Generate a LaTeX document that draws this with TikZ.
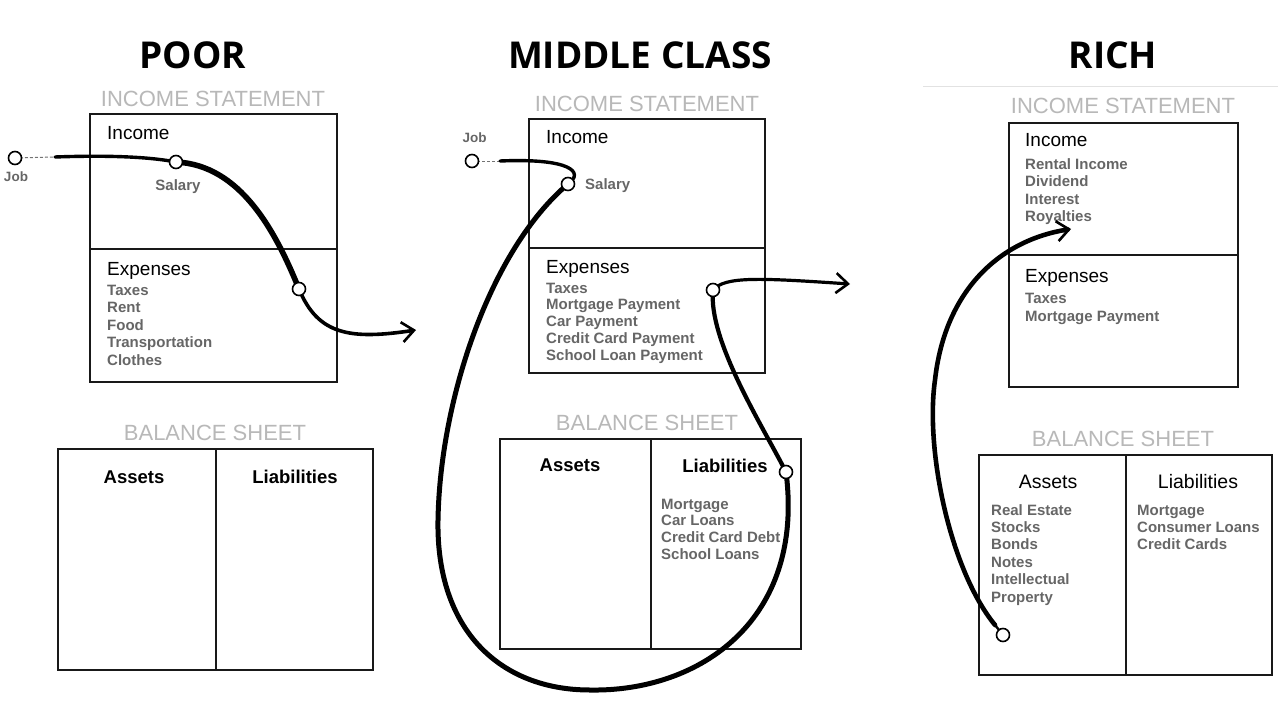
\documentclass[tikz,border=0pt]{standalone}
\usepackage{fontspec}
\setmainfont{Liberation Sans}
\newfontfamily\titlefont{Open Sans}
\usetikzlibrary{arrows.meta}
\definecolor{secgray}{HTML}{B8B8B8}
\definecolor{itemgray}{HTML}{666666}
\definecolor{rulegray}{HTML}{E2E2E2}
\tikzset{
  box/.style={draw=black!90, line width=2.6pt},
  ttl/.style={font=\titlefont\bfseries\fontsize{37}{40}\selectfont, anchor=base, inner sep=0},
  sect/.style={text=secgray, font=\fontsize{22}{24}\selectfont, anchor=base, inner sep=0},
  hdr/.style={font=\fontsize{19}{22}\selectfont, anchor=base west, inner sep=0},
  bhdr/.style={font=\bfseries\fontsize{18.5}{22}\selectfont, anchor=base, inner sep=0},
  rhdr/.style={font=\fontsize{19.5}{22}\selectfont, anchor=base, inner sep=0},
  item/.style={text=itemgray, font=\bfseries\fontsize{15}{18}\selectfont, anchor=base west, inner sep=0},
  small/.style={text=itemgray, font=\bfseries\fontsize{13.5}{16}\selectfont, anchor=base, inner sep=0},
  dot/.style={circle, draw=black, line width=1.6pt, fill=white, minimum size=13pt, inner sep=0},
  brush/.style={line width=5pt, line cap=round, draw=black},
  lead/.style={line width=1pt, dash pattern=on 3pt off 2pt, draw=black!55},
  tip/.style={-{Straight Barb[length=12pt,width=20pt,line width=2.6pt]}}
}
\begin{document}
\begin{tikzpicture}[x=1pt,y=-1pt]
\useasboundingbox[fill=white] (0,0) rectangle (1280,720);

% ---------- titles ----------
\node[ttl] (tpoor) at (193,68) {POOR};
\node[ttl] (tmid) at (640,68) {MIDDLE CLASS};
\node[ttl] (trich) at (1113,68) {RICH};
\draw[rulegray, line width=1pt] (923,86) -- (1278,86);

% ---------- POOR ----------
\node[sect] (pis) at (213,106) {INCOME STATEMENT};
\draw[box] (90,114) rectangle (337,382);
\draw[box] (90,249) -- (337,249);
\node[hdr] (pinc) at (107,139.5) {Income};
\node[hdr] (pexph) at (107,275) {Expenses};
\foreach \t [count=\i from 0] in {Taxes,Rent,Food,Transportation,Clothes}
  \node[item] (pe\i) at (107,295+17.6*\i) {\t};
\node[small] (pjobl) at (16,181) {Job};
\node[item, anchor=base] (psall) at (178,190) {Salary};

\node[sect] (pbs) at (215,440) {BALANCE SHEET};
\draw[box] (58,449) rectangle (373,670);
\draw[box] (216,449) -- (216,670);
\node[bhdr] (pa) at (134,483) {Assets};
\node[bhdr] (pl) at (295,483) {Liabilities};

% ---------- MIDDLE CLASS ----------
\node[sect] (mis) at (647,111) {INCOME STATEMENT};
\draw[box] (529,119) rectangle (765,373);
\draw[box] (529,248) -- (765,248);
\node[hdr] (minc) at (546,143) {Income};
\node[hdr] (mexph) at (546,273) {Expenses};
\foreach \t [count=\i from 0] in {Taxes,Mortgage Payment,Car Payment,Credit Card Payment,School Loan Payment}
  \node[item] (me\i) at (546,293+16.8*\i) {\t};
\node[small] (mjobl) at (474.5,142) {Job};
\node[item] (msall) at (585,189) {Salary};

\node[sect] (mbs) at (647,430) {BALANCE SHEET};
\draw[box] (500,439) rectangle (801,649);
\draw[box] (651,439) -- (651,649);
\node[bhdr] (ma) at (570,471) {Assets};
\node[bhdr] (ml) at (725,472) {Liabilities};
\foreach \t [count=\i from 0] in {Mortgage,Car Loans,Credit Card Debt,School Loans}
  \node[item] (ml\i) at (661,509+16.7*\i) {\t};

% ---------- RICH ----------
\node[sect] (ris) at (1123,113) {INCOME STATEMENT};
\draw[box] (1009,123) rectangle (1238,387);
\draw[box] (1009,255) -- (1238,255);
\node[hdr] (rinc) at (1025,146.5) {Income};
\node[hdr] (rexph) at (1025,282) {Expenses};
\foreach \t [count=\i from 0] in {Rental Income,Dividend,Interest,Royalties}
  \node[item] (ri\i) at (1025,169.5+17.3*\i) {\t};
\foreach \t [count=\i from 0] in {Taxes,Mortgage Payment}
  \node[item] (re\i) at (1025,303.5+17.6*\i) {\t};

\node[sect] (rbs) at (1123,446) {BALANCE SHEET};
\draw[box] (979,455) rectangle (1272,675);
\draw[box] (1126,455) -- (1126,675);
\node[rhdr] (ra) at (1048,488.5) {Assets};
\node[rhdr] (rl) at (1198,488.5) {Liabilities};
\foreach \t [count=\i from 0] in {Real Estate,Stocks,Bonds,Notes,Intellectual,Property}
  \node[item] (ra\i) at (991,515+17.4*\i) {\t};
\foreach \t [count=\i from 0] in {Mortgage,Consumer Loans,Credit Cards}
  \node[item] (rl\i) at (1137,515+17.4*\i) {\t};

% ---------- flow points ----------
\coordinate (pjobc) at (15,158);
\coordinate (psalc) at (176,162);
\coordinate (pexpc) at (299,289);
\coordinate (pjs) at (55,157);
\coordinate (pend) at (416,330);

\coordinate (mjobc) at (472,161);
\coordinate (msalc) at (568,184);
\coordinate (mexpc) at (713,290);
\coordinate (mliabc) at (786,472);
\coordinate (mjs) at (500,161);
\coordinate (mleft) at (438,520);
\coordinate (mbot) at (590,690);
\coordinate (mend) at (850,284);

\coordinate (rassc) at (1003,635);
\coordinate (rmid) at (935,380);
\coordinate (rend) at (1071,229);

% ---------- connectors ----------
\draw[lead] (pjobc) -- (pjs);
\draw[brush, line width=3.4pt] (pjs) .. controls (110,155) and (150,157) .. (psalc);
\draw[brush, line width=5.6pt] (psalc) .. controls (240,165) and (275,230) .. (pexpc);
\draw[brush, line width=3.6pt, tip] (pexpc) .. controls (318,335) and (350,340) .. (pend);

\draw[lead] (mjobc) -- (mjs);
\draw[brush, line width=3.4pt] (mjs) .. controls (570,158) and (585,172) .. (msalc);
\draw[brush] (msalc) .. controls (490,250) and (440,400) .. (mleft)
  .. controls (436,630) and (500,690) .. (mbot)
  .. controls (700,692) and (805,620) .. (mliabc);
\draw[brush, line width=4.2pt] (mliabc) .. controls (762,425) and (708,340) .. (mexpc);
\draw[brush, line width=3.2pt, tip] (mexpc) .. controls (725,276) and (760,278) .. (mend);

\draw[brush, line width=2.4pt] (rassc) -- ++(-8,-10) coordinate (rs);
\draw[brush, line width=4.6pt, tip] (rs) .. controls (950,570) and (925,450) .. (rmid)
  .. controls (945,290) and (1000,240) .. (rend);

% ---------- circles ----------
\node[dot] (pjob) at (pjobc) {};
\node[dot] (psal) at (psalc) {};
\node[dot] (pexp) at (pexpc) {};
\node[dot] (mjob) at (mjobc) {};
\node[dot] (msal) at (msalc) {};
\node[dot] (mexp) at (mexpc) {};
\node[dot] (mliab) at (mliabc) {};
\node[dot] (rass) at (rassc) {};
\end{tikzpicture}
\end{document}
